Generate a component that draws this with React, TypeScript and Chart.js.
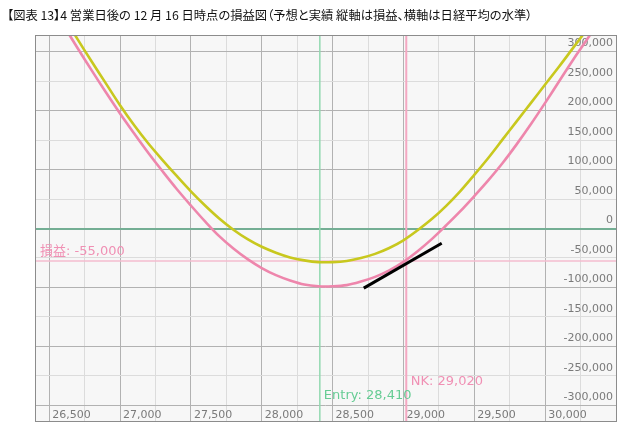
import React, { useEffect, useRef } from "react";
import { Chart, registerables } from "chart.js";

Chart.register(...registerables);

const TITLE =
  "【図表 13】4 営業日後の 12 月 16 日時点の損益図（予想と実績 縦軸は損益、横軸は日経平均の水準）";

// Nikkei levels (x) sampled along the curves
const NIKKEI_LEVELS = [
  26600, 26700, 26800, 26900, 27000, 27100, 27200, 27300, 27400, 27500,
  27600, 27700, 27800, 27900, 28000, 28100, 28200, 28300, 28400, 28500,
  28600, 28700, 28800, 28900, 29000, 29100, 29200, 29300, 29400, 29500,
  29600, 29700, 29800, 29900, 30000, 30100, 30200, 30300, 30400,
];

// pink curve (actual) in yen
const ACTUAL_PL = [
  345000, 306000, 268000, 231000, 195000, 161000, 128000, 97000, 67000, 39000,
  12000, -13000, -34000, -52000, -67000, -79000, -88000, -95000, -98000, -98000,
  -96000, -90000, -82000, -71000, -56500, -38500, -18000, 5000, 29000, 55000,
  82000, 111000, 143000, 177000, 213000, 250000, 287000, 322000, 358000,
];

// yellow curve (forecast) in yen
const FORECAST_PL = [
  360000, 321000, 283000, 246000, 209000, 175000, 144000, 116000, 89000, 63000,
  39000, 17000, -2000, -18000, -31000, -41000, -49000, -54000, -57000, -57000,
  -55000, -50000, -43000, -33000, -20000, -3000, 16000, 38000, 63000, 91000,
  120000, 151000, 182000, 213000, 244000, 275000, 307000, 339000, 371000,
];

// black tangent segment
const TANGENT_X = [28720, 29270];
const TANGENT_Y = [-101000, -25000];

const ENTRY_LEVEL = 28410;
const NK_LEVEL = 29020;
const PL_LEVEL = -55000;

const X_MIN = 26400;
const X_MAX = 30500;
const Y_MIN = -328000;
const Y_MAX = 328000;

// grid ticks (labels on multiples of 500 for x; every tick for y)
const X_TICKS = [
  26500, 26750, 27000, 27250, 27500, 27750, 28000, 28250, 28500, 28750,
  29000, 29250, 29500, 29750, 30000, 30250,
];
const Y_TICKS = [
  -300000, -250000, -200000, -150000, -100000, -50000, 0, 50000, 100000,
  150000, 200000, 250000, 300000,
];

const fmt = (v: number) => v.toLocaleString("en-US");

const PINK = "#ee86ac";
const YELLOW = "#c8c81e";
const GRID_DARK = "#b2b2b2";
const GRID_LIGHT = "#dcdcdc";
const ZERO_GREEN = "#74ae94";

const decorPlugin = {
  id: "decor",
  beforeDraw(chart: any) {
    const { ctx, chartArea: a } = chart;
    ctx.save();
    ctx.fillStyle = "#f7f7f7";
    ctx.fillRect(a.left, a.top, a.right - a.left, a.bottom - a.top);
    ctx.restore();
  },
  beforeDatasetsDraw(chart: any) {
    const { ctx, chartArea: a, scales } = chart;
    const xs = scales.x;
    const ys = scales.y;
    ctx.save();
    const yPl = ys.getPixelForValue(PL_LEVEL);
    ctx.strokeStyle = "#f5bccf";
    ctx.lineWidth = 1.5;
    ctx.beginPath();
    ctx.moveTo(a.left, yPl);
    ctx.lineTo(a.right, yPl);
    ctx.stroke();
    const xE = xs.getPixelForValue(ENTRY_LEVEL);
    ctx.strokeStyle = "#92d8b0";
    ctx.lineWidth = 1.5;
    ctx.beginPath();
    ctx.moveTo(xE, a.top);
    ctx.lineTo(xE, a.bottom);
    ctx.stroke();
    const xN = xs.getPixelForValue(NK_LEVEL);
    ctx.strokeStyle = "#f4a8c2";
    ctx.lineWidth = 2;
    ctx.beginPath();
    ctx.moveTo(xN, a.top);
    ctx.lineTo(xN, a.bottom);
    ctx.stroke();
    ctx.restore();
  },
  afterDatasetsDraw(chart: any) {
    const { ctx, chartArea: a, scales } = chart;
    const xs = scales.x;
    const ys = scales.y;
    ctx.save();
    ctx.font = "13px 'DejaVu Sans', 'Noto Sans CJK JP', sans-serif";
    ctx.textBaseline = "middle";
    ctx.textAlign = "left";
    ctx.fillStyle = "#f090b4";
    ctx.fillText("損益: " + fmt(PL_LEVEL), a.left + 5, ys.getPixelForValue(PL_LEVEL) - 9.5);
    ctx.fillText("NK: " + fmt(NK_LEVEL), xs.getPixelForValue(NK_LEVEL) + 4.5, a.bottom - 40);
    ctx.fillStyle = "#66cc94";
    ctx.fillText("Entry: " + fmt(ENTRY_LEVEL), xs.getPixelForValue(ENTRY_LEVEL) + 4, a.bottom - 26);
    ctx.strokeStyle = "#8c8c8c";
    ctx.lineWidth = 1;
    ctx.strokeRect(a.left + 0.5, a.top + 0.5, a.right - a.left, a.bottom - a.top - 1);
    ctx.restore();
  },
};

export default function App() {
  const ref = useRef<HTMLCanvasElement>(null);
  useEffect(() => {
    document.body.style.margin = "0";
    const toPts = (ys: number[]) => NIKKEI_LEVELS.map((x, i) => ({ x, y: ys[i] }));
    const chart = new Chart(ref.current as HTMLCanvasElement, {
      type: "line",
      data: {
        datasets: [
          {
            label: "tangent",
            data: TANGENT_X.map((x, i) => ({ x, y: TANGENT_Y[i] })),
            borderColor: "#000000",
            borderWidth: 3,
            pointRadius: 0,
          },
          {
            label: "実績",
            data: toPts(ACTUAL_PL),
            borderColor: PINK,
            borderWidth: 2.6,
            pointRadius: 0,
            tension: 0.35,
          },
          {
            label: "予想",
            data: toPts(FORECAST_PL),
            borderColor: YELLOW,
            borderWidth: 2.6,
            pointRadius: 0,
            tension: 0.35,
          },
        ],
      },
      options: {
        animation: false,
        responsive: false,
        devicePixelRatio: 1,
        layout: { padding: { left: 35, top: 35, right: 27, bottom: 19 } },
        plugins: {
          legend: { display: false },
          tooltip: { enabled: false },
          title: { display: false },
        },
        scales: {
          x: {
            type: "linear",
            position: "bottom",
            min: X_MIN,
            max: X_MAX,
            afterBuildTicks: (s: any) => {
              s.ticks = X_TICKS.map((value) => ({ value }));
            },
            afterFit: (s: any) => {
              s.height = 0;
            },
            border: { display: false },
            grid: {
              drawTicks: false,
              tickLength: 0,
              color: (c: any) => (c.tick && c.tick.value % 500 === 0 ? GRID_DARK : GRID_LIGHT),
            },
            ticks: {
              autoSkip: false,
              maxRotation: 0,
              mirror: true,
              padding: 0,
              align: "start",
              labelOffset: 3,
              color: "#7a7a7a",
              font: { family: "'DejaVu Sans'", size: 11 },
              callback: (v: any) => (v % 500 === 0 && v < X_MAX ? fmt(v) : ""),
            },
          },
          y: {
            type: "linear",
            position: "right",
            min: Y_MIN,
            max: Y_MAX,
            afterBuildTicks: (s: any) => {
              s.ticks = Y_TICKS.map((value) => ({ value }));
            },
            afterFit: (s: any) => {
              s.width = 0;
            },
            border: { display: false },
            grid: {
              drawTicks: false,
              tickLength: 0,
              color: (c: any) =>
                c.tick && c.tick.value === 0
                  ? ZERO_GREEN
                  : c.tick && c.tick.value % 100000 === 0
                  ? GRID_DARK
                  : GRID_LIGHT,
              lineWidth: (c: any) => (c.tick && c.tick.value === 0 ? 2 : 1),
            },
            ticks: {
              autoSkip: false,
              mirror: true,
              padding: -3,
              crossAlign: "near",
              labelOffset: -8,
              color: "#7a7a7a",
              font: { family: "'DejaVu Sans'", size: 11 },
              callback: (v: any) => fmt(v),
            },
          },
        },
      },
      plugins: [decorPlugin],
    } as any);
    return () => chart.destroy();
  }, []);
  return (
    <div style={{ position: "relative", width: 643, height: 441, background: "#fff", overflow: "hidden" }}>
      <canvas ref={ref} width={643} height={441} style={{ position: "absolute", left: 0, top: 0 }} />
      <div
        style={{
          position: "absolute",
          left: 7,
          top: 6,
          whiteSpace: "nowrap",
          fontFamily: "'Noto Sans CJK JP', sans-serif",
          fontSize: 12.3,
          lineHeight: "18px",
          color: "#111",
          fontFeatureSettings: '"palt"',
        }}
      >
        {TITLE}
      </div>
    </div>
  );
}
